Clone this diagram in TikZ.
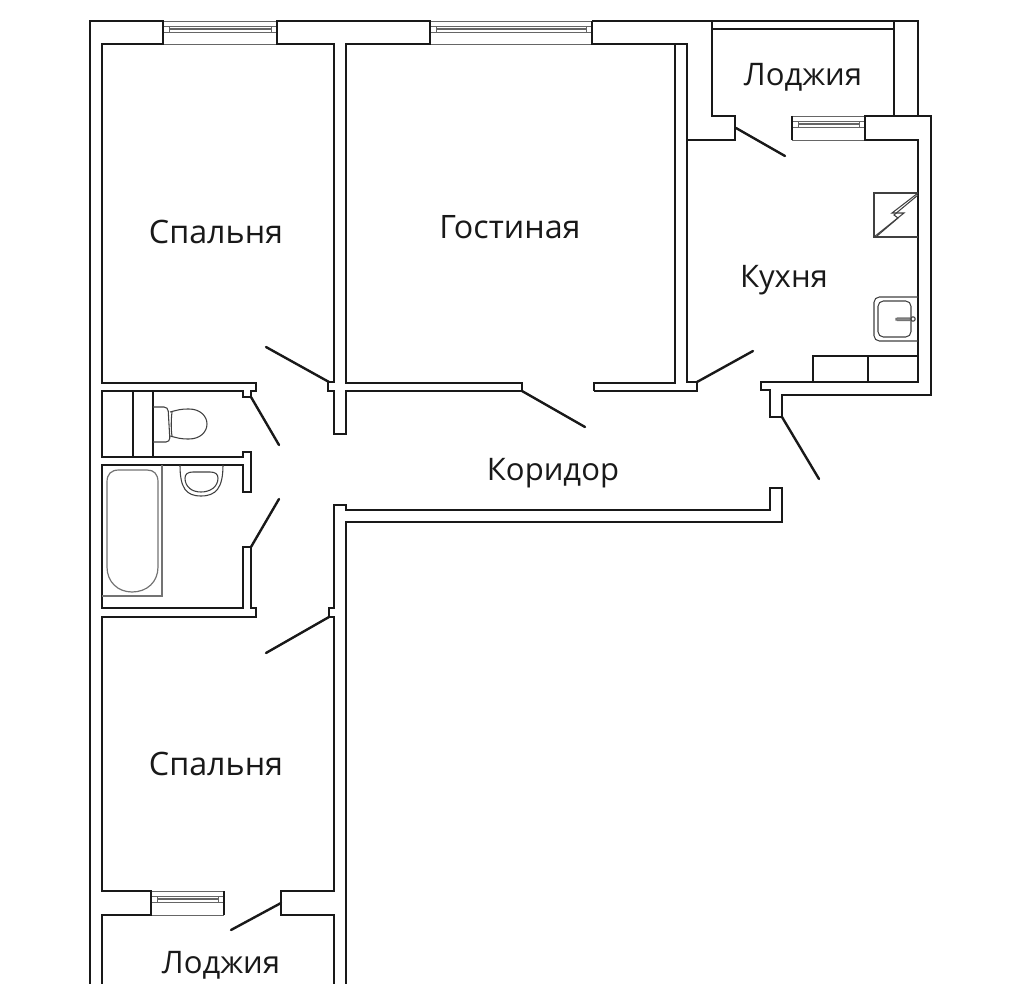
\documentclass[tikz,border=0pt]{standalone}
\usepackage{fontspec}
\setmainfont{Open Sans}
\tikzset{
  wall/.style={draw=black!90,line width=2.1pt,line join=miter},
  doorleaf/.style={draw=black!90,line width=1.8pt,line cap=round},
  thin/.style={draw=black!60,line width=0.7pt},
  fix/.style={draw=black!75,line width=0.8pt},
  grayfix/.style={draw=black!55,line width=0.9pt},
  room/.style={font=\fontsize{24.2pt}{26pt}\selectfont,text=black!90,inner sep=0pt,anchor=center},
  roomsmall/.style={room,font=\fontsize{23.3pt}{26pt}\selectfont}
}
% window: x1, x2, y top, y bottom
\newcommand{\fenetre}[4]{%
  \draw[thin] (#1,#3) -- (#2,#3);
  \draw[thin] (#1,#4) -- (#2,#4);
  \draw[thin] (#1,#3+5) rectangle (#2,#3+11);
  \draw[thin] (#1+6,#3+5) rectangle (#2-6,#3+11);
  \draw[thin,fill=black!35] (#1+6,#3+7.4) rectangle (#2-6,#3+8.6);
}
\begin{document}
\begin{tikzpicture}[x=0.75pt,y=-0.75pt]
\useasboundingbox (0,0) rectangle (1024,984);
% windows
\fenetre{163}{277}{21}{44}
\fenetre{430}{592}{21}{44}
\fenetre{792}{865}{116}{140}
\fenetre{151}{224}{891}{915}
% outer-left wall and top
\draw[wall] (90,984) -- (90,21) -- (163,21) -- (163,44) -- (102,44) -- (102,383) -- (256,383) -- (256,391) -- (251,391) -- (251,397) -- (243,397) -- (243,391) -- (102,391) -- (102,457) -- (243,457) -- (243,452) -- (251,452) -- (251,492) -- (243,492) -- (243,465) -- (102,465) -- (102,608) -- (243,608) -- (243,547) -- (251,547) -- (251,608) -- (256,608) -- (256,617) -- (102,617) -- (102,891) -- (151,891) -- (151,915) -- (102,915) -- (102,984);
\draw[wall] (224,891) -- (224,915);
\draw[wall] (334,984) -- (334,915) -- (281,915) -- (281,891) -- (334,891) -- (334,617) -- (329,617) -- (329,608) -- (334,608) -- (334,505) -- (346,505) -- (346,510) -- (770,510) -- (770,488) -- (782,488) -- (782,522) -- (346,522) -- (346,984);
% bedroom / living walls
\draw[wall] (277,21) -- (277,44) -- (334,44) -- (334,382) -- (328,382) -- (328,391) -- (334,391) -- (334,434) -- (346,434) -- (346,391) -- (522,391) -- (522,383) -- (346,383) -- (346,44) -- (430,44) -- (430,21) -- cycle;
% living right, loggia, kitchen
\draw[wall] (594,391) -- (594,383) -- (675,383) -- (675,44);
\draw[wall] (594,391) -- (697,391) -- (697,382) -- (687,382) -- (687,140) -- (735,140) -- (735,116) -- (712,116) -- (712,21);
\draw[wall] (592,21) -- (592,44) -- (687,44) -- (687,140);
\draw[wall] (592,21) -- (918,21) -- (918,116) -- (931,116) -- (931,395) -- (782,395) -- (782,417) -- (770,417) -- (770,390) -- (761,390) -- (761,382) -- (918,382) -- (918,140) -- (865,140) -- (865,116) -- (918,116);
\draw[wall] (712,29) -- (894,29);
\draw[wall] (894,21) -- (894,116);
\draw[wall] (792,116) -- (792,140);
% doors
\draw[doorleaf] (736,128) -- (785,156);
\draw[doorleaf] (697,382) -- (753,351);
\draw[doorleaf] (782,417) -- (819,479);
\draw[doorleaf] (522,391) -- (585,427);
\draw[doorleaf] (329,382) -- (266,347);
\draw[doorleaf] (251,397) -- (279,445);
\draw[doorleaf] (251,547) -- (279,499);
\draw[doorleaf] (329,617) -- (266,653);
\draw[doorleaf] (281,903) -- (231,930);
% kitchen fixtures
\draw[fix] (918,193) -- (874,193) -- (874,237) -- (918,237);
\draw[fix] (918,193) -- (892,213) -- (904,213) -- (874,237);
\draw[fix] (918,195) -- (894,215) -- (898,218) -- (877,236);
\draw[fix,rounded corners=4pt] (918,297) -- (874,297) -- (874,341) -- (918,341);
\draw[fix,rounded corners=4pt] (878,301) rectangle (911,337);
\draw[grayfix,fill=black!45,rounded corners=1pt] (896,318) rectangle (911,320.5);
\draw[fix] (913,319) circle[radius=2.2];
\draw[wall,line width=1.5pt] (918,356) -- (813,356) -- (813,382);
\draw[wall,line width=1.5pt] (868,356) -- (868,382);
% wc
\draw[wall,line width=1.7pt] (133,391) -- (133,457);
\draw[wall,line width=1.7pt] (153,391) -- (153,457);
\draw[fix,rounded corners=3pt] (153,407) -- (168,407) -- (170,442) -- (153,442);
\draw[fix] (170,412) .. controls (178,410) and (180,409) .. (189,409) .. controls (200,409) and (207,416) .. (207,424) .. controls (207,432) and (200,439) .. (189,439) .. controls (180,439) and (178,438) .. (170,436);
\draw[fix] (172,412) .. controls (171,420) and (171,430) .. (172,436);
% washbasin
\draw[fix] (180,465) .. controls (180,488) and (186,496) .. (201,496) .. controls (216,496) and (223,488) .. (223,465);
\draw[fix] (185,478) .. controls (185,474) and (188,472) .. (193,472) -- (210,472) .. controls (215,472) and (218,474) .. (218,478) .. controls (218,487) and (210,492) .. (201,492) .. controls (192,492) and (185,487) .. (185,478);
% bath
\draw[grayfix] (162,465) -- (162,596) -- (102,596);
\draw[grayfix] (107,482) .. controls (107,474) and (111,470) .. (119,470) -- (147,470) .. controls (154,470) and (158,474) .. (158,482) -- (158,567) .. controls (158,582) and (147,592) .. (132,592) .. controls (118,592) and (107,582) .. (107,567) -- cycle;
% labels
\node[room] (s1) at (216,232) {Спальня};
\node[room] (g) at (510,227) {Гостиная};
\node[roomsmall] (l1) at (803,77) {Лоджия};
\node[roomsmall] (k) at (784,280) {Кухня};
\node[roomsmall] (c) at (553,473) {Коридор};
\node[room] (s2) at (216,764) {Спальня};
\node[roomsmall] (l2) at (221,965) {Лоджия};
\end{tikzpicture}
\end{document}
